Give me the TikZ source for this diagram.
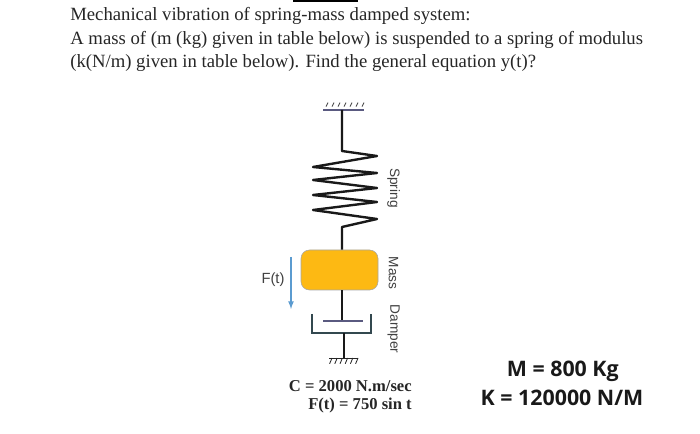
\documentclass[tikz,border=0pt]{standalone}
\usepackage{fontspec}
\setmainfont{Liberation Serif}
\newfontfamily\labelfont{Liberation Sans}
\newfontfamily\valuefont{Open Sans}
\definecolor{massgold}{HTML}{FDB913}
\definecolor{forceblue}{HTML}{5B9BD0}
\definecolor{barpurple}{HTML}{5A5A80}
\definecolor{cupteal}{HTML}{33484F}
\tikzset{
  question/.style={anchor=west,inner sep=0pt,font=\fontsize{13.3}{15}\selectfont,text=black!85},
  rod/.style={draw=black!90,line width=1.7pt},
  massbox/.style={draw=black!35,line width=0.4pt,fill=massgold,rounded corners=6pt,minimum width=1.925cm,minimum height=1cm,inner sep=0pt},
  sidetext/.style={rotate=-90,inner sep=0pt,font=\labelfont\fontsize{9.7}{11}\selectfont,text=black!75},
  given/.style={anchor=east,inner sep=0pt,font=\bfseries\fontsize{11.8}{13}\selectfont,text=black!85},
  result/.style={inner sep=0pt,font=\valuefont\bfseries\fontsize{15.2}{17}\selectfont,text=black!90}
}
\begin{document}
\begin{tikzpicture}
  \useasboundingbox (0,0) rectangle (17.5,10.825);

  % Aufgabentext
  \node[question] (line1) at (1.75,10.42) {Mechanical vibration of spring-mass damped system:};
  \node[question] (line2) at (1.75,9.815) {A mass of (m (kg) given in table below) is suspended to a spring of modulus};
  \node[question] (line3) at (1.75,9.255) {(k(N/m) given in table below). Find the general equation y(t)?};
  \draw[black,line width=0.8pt] (7.325,10.8) -- (8.95,10.8);

  % Decke
  \coordinate (ceilL) at (8.075,8.075);
  \coordinate (ceilR) at (9.1,8.075);
  \coordinate (ceil) at (8.55,8.075);
  \draw[barpurple,line width=0.8pt] (ceilL) -- (ceilR);
  \foreach \x in {8.15,8.3,8.45,8.6,8.75,8.9,9.05}
    \draw[black!70,line width=0.6pt] (\x,8.16) -- (\x+0.05,8.26);

  % Masse
  \node[massbox] (mass) at (8.4875,4.075) {};

  % Feder
  \draw[rod,line join=round] (ceil) -- (8.55,7.05) -- (9.425,6.925) -- (7.825,6.65)
    -- (9.425,6.5) -- (7.825,6.325) -- (9.425,6.125) -- (7.825,5.95)
    -- (9.425,5.775) -- (7.825,5.575) -- (9.425,5.35) -- (8.55,5.15)
    -- (mass.north -| ceil);

  % Daempfer
  \coordinate (piston) at (8.55,2.8);
  \coordinate (pistonL) at (8.075,2.8);
  \coordinate (pistonR) at (9.075,2.8);
  \coordinate (cupL) at (7.8,2.975);
  \coordinate (cupR) at (9.275,2.975);
  \coordinate (cupB) at (8.6,2.5);
  \coordinate (ground) at (8.6,1.875);
  \draw[rod] (mass.south -| piston) -- (piston);
  \draw[barpurple,line width=1.1pt] (pistonL) -- (pistonR);
  \draw[cupteal,line width=1.3pt] (cupL) -- (cupL |- cupB) -- (cupR |- cupB) -- (cupR);
  \draw[rod] (cupB) -- (ground);

  % Boden
  \draw[black!85,line width=0.7pt] (8.225,1.875) -- (8.95,1.875);
  \foreach \x in {8.3,8.43,8.56,8.69,8.82,8.95}
    \draw[black!85,line width=0.6pt] (\x,1.875) -- (\x-0.06,1.73);

  % Kraft
  \coordinate (forceTop) at (7.275,4.4);
  \coordinate (forceEnd) at (7.275,3.1);
  \draw[forceblue,line width=0.9pt,-latex] (forceTop) -- (forceEnd);
  \node[inner sep=0pt,font=\labelfont\fontsize{10.5}{12}\selectfont,text=black!75] (force) at (6.825,3.825) {F(t)};

  % Beschriftungen
  \node[sidetext] (springtxt) at (9.84,6.125) {Spring};
  \node[sidetext] (masstxt) at (9.84,4.0) {Mass};
  \node[sidetext] (dampertxt) at (9.84,2.6) {Damper};

  % Werte
  \node[given] (cval) at (10.3,1.17) {C = 2000 N.m/sec};
  \node[given] (fval) at (10.3,0.68) {F(t) = 750 sin t};
  \node[result] (mval) at (14.07,1.55) {M = 800 Kg};
  \node[result] (kval) at (14.05,0.88) {K = 120000 N/M};
\end{tikzpicture}
\end{document}
